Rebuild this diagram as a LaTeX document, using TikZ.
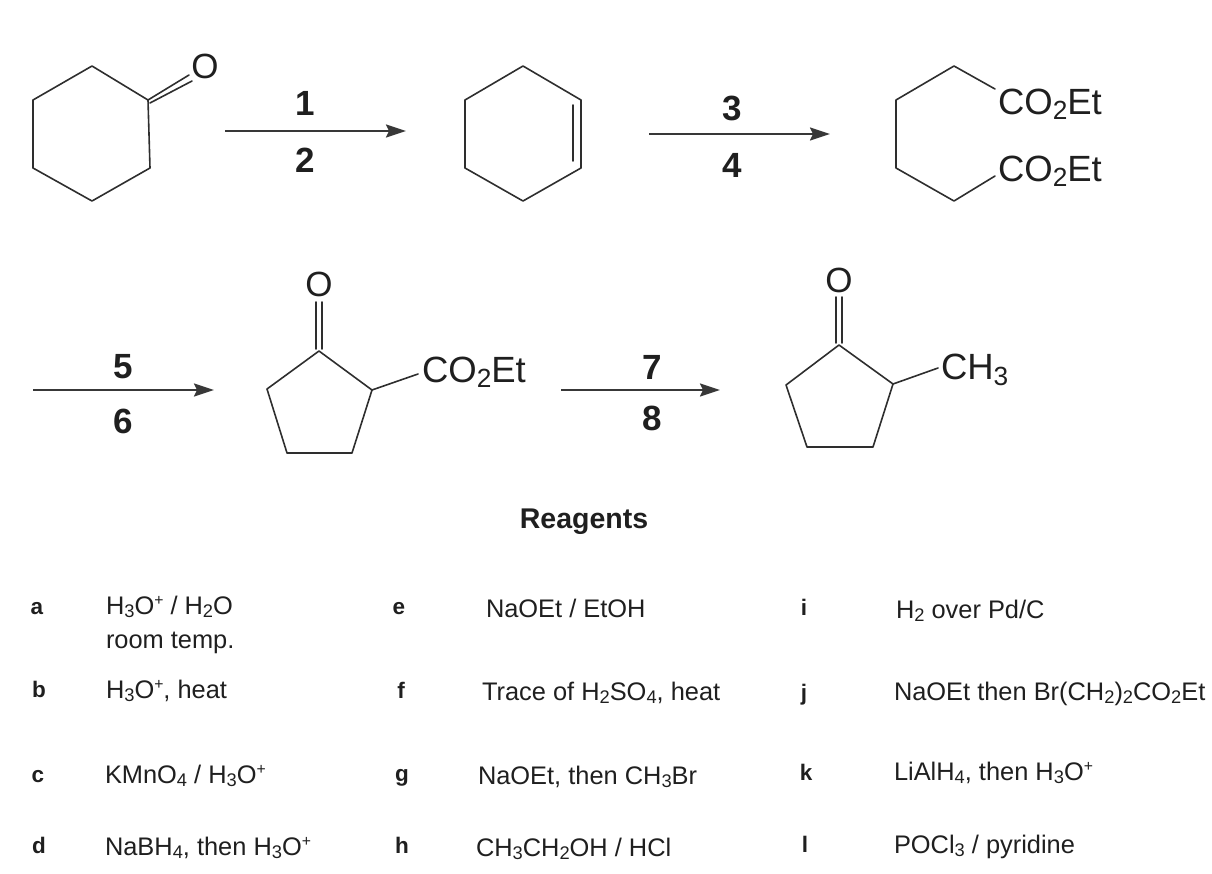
\documentclass[tikz,border=0pt]{standalone}
\usepackage{fontspec}
\setmainfont{Liberation Sans}
\usetikzlibrary{arrows.meta}
\newcommand{\sbs}[1]{\raisebox{-0.28ex}{\scalebox{.72}{#1}}}
\newcommand{\sps}[1]{\raisebox{0.62ex}{\scalebox{.62}{#1}}}
\tikzset{
  x=1pt,y=-1pt,
  every node/.style={inner sep=0pt,outer sep=0pt,text=black!88},
  bond/.style={draw=black!82,line width=1.6pt,line join=round,line cap=round},
  rxn/.style={draw=black!78,line width=2pt,-{Stealth[length=20pt,width=13pt,inset=3pt]}},
  atom/.style={font=\fontsize{35}{35}\selectfont},
  group/.style={anchor=west,font=\fontsize{36.5}{36.5}\selectfont},
  num/.style={font=\fontsize{35}{35}\bfseries\selectfont},
  letter/.style={anchor=base,font=\fontsize{22.5}{22.5}\bfseries\selectfont},
  reagent/.style={anchor=base west,font=\fontsize{25.4}{25.4}\selectfont},
  title/.style={font=\fontsize{28.5}{28.5}\bfseries\selectfont},
}
\begin{document}
\begin{tikzpicture}
\useasboundingbox (0,0) rectangle (1212,873);
% cyclohexanone
\coordinate (a1) at (92,66);\coordinate (a2) at (33,100);\coordinate (a3) at (33,168);
\coordinate (a4) at (92,201);\coordinate (a5) at (150,168);\coordinate (a6) at (148,100);
\draw[bond] (a6)--(a1)--(a2)--(a3)--(a4)--(a5)--cycle;
\node[atom] (o1) at (205,66) {O};
\coordinate (o1a) at (189,75);\coordinate (o1b) at (192,81);\coordinate (a6b) at (150,103);
\draw[bond] (a6)--(o1a) (a6b)--(o1b);
% arrow 1
\coordinate (r1s) at (225,131);\coordinate (r1e) at (406,131);
\draw[rxn] (r1s)--(r1e);
\node[num] (n1) at (305,103) {1};\node[num] (n2) at (305,160) {2};
% cyclohexene
\coordinate (b1) at (523,66);\coordinate (b2) at (465,100);\coordinate (b3) at (465,168);
\coordinate (b4) at (523,201);\coordinate (b5) at (581,168);\coordinate (b6) at (581,100);
\draw[bond] (b6)--(b1)--(b2)--(b3)--(b4)--(b5)--cycle;
\coordinate (b7) at (573,105);\coordinate (b8) at (573,161);
\draw[bond] (b7)--(b8);
% arrow 2
\coordinate (r2s) at (649,134);\coordinate (r2e) at (830,134);
\draw[rxn] (r2s)--(r2e);
\node[num] (n3) at (732,108) {3};\node[num] (n4) at (732,165) {4};
% diester
\node[group] (e1) at (998,104) {CO\sbs{2}Et};
\node[group] (e2) at (998,171) {CO\sbs{2}Et};
\coordinate (c1) at (954,66);\coordinate (c2) at (896,100);\coordinate (c3) at (896,168);\coordinate (c4) at (954,201);
\coordinate (c0) at (995,89);\coordinate (c5) at (995,176);
\draw[bond] (c0)--(c1)--(c2)--(c3)--(c4)--(c5);
% arrow 3
\coordinate (r3s) at (33,390);\coordinate (r3e) at (214,390);
\draw[rxn] (r3s)--(r3e);
\node[num] (n5) at (123,367) {5};\node[num] (n6) at (123,421) {6};
% keto ester
\coordinate (d1) at (319,351);\coordinate (d2) at (267,389);\coordinate (d3) at (287,453);
\coordinate (d4) at (352,453);\coordinate (d5) at (372,390);
\draw[bond] (d1)--(d2)--(d3)--(d4)--(d5)--cycle;
\node[atom] (o2) at (319,284) {O};
\coordinate (d1a) at (316,349);\coordinate (d1b) at (322,349);\coordinate (o2a) at (316,302);\coordinate (o2b) at (322,302);
\draw[bond] (d1a)--(o2a) (d1b)--(o2b);
\node[group] (e3) at (422,372) {CO\sbs{2}Et};
\coordinate (d6) at (418,374);
\draw[bond] (d5)--(d6);
% arrow 4
\coordinate (r4s) at (561,390);\coordinate (r4e) at (720,390);
\draw[rxn] (r4s)--(r4e);
\node[num] (n7) at (652,367) {7};\node[num] (n8) at (652,418) {8};
% methyl ketone
\coordinate (f1) at (839,345);\coordinate (f2) at (786,385);\coordinate (f3) at (807,447);
\coordinate (f4) at (873,447);\coordinate (f5) at (893,384);
\draw[bond] (f1)--(f2)--(f3)--(f4)--(f5)--cycle;
\node[atom] (o3) at (839,280) {O};
\coordinate (f1a) at (836,343);\coordinate (f1b) at (842,343);\coordinate (o3a) at (836,297);\coordinate (o3b) at (842,297);
\draw[bond] (f1a)--(o3a) (f1b)--(o3b);
\node[group] (m1) at (941,370) {CH\sbs{3}};
\coordinate (f6) at (938,368);
\draw[bond] (f5)--(f6);
% reagents
\node[title] (rt) at (584,522) {Reagents};
\node[letter] (la) at (37,614) {a};
\node[reagent] (ra) at (106,614) {H\sbs{3}O\sps{+} / H\sbs{2}O};
\node[reagent] (ra2) at (106,648) {room temp.};
\node[letter] (lb) at (39,697) {b};
\node[reagent] (rb) at (106,698) {H\sbs{3}O\sps{+}, heat};
\node[letter] (lc) at (38,782) {c};
\node[reagent] (rc) at (105,783) {KMnO\sbs{4} / H\sbs{3}O\sps{+}};
\node[letter] (ld) at (39,853) {d};
\node[reagent] (rd) at (105,855) {NaBH\sbs{4}, then H\sbs{3}O\sps{+}};
\node[letter] (le) at (399,614) {e};
\node[reagent] (re) at (486,617) {NaOEt / EtOH};
\node[letter] (lf) at (401,698) {f};
\node[reagent] (rf) at (482,700) {Trace of H\sbs{2}SO\sbs{4}, heat};
\node[letter] (lg) at (402,781) {g};
\node[reagent] (rg) at (478,784) {NaOEt, then CH\sbs{3}Br};
\node[letter] (lh) at (402,853) {h};
\node[reagent] (rh) at (476,856) {CH\sbs{3}CH\sbs{2}OH / HCl};
\node[letter] (li) at (804,615) {i};
\node[reagent] (ri) at (896,618) {H\sbs{2} over Pd/C};
\node[letter] (lj) at (804,700) {j};
\node[reagent] (rj) at (894,700) {NaOEt then Br(CH\sbs{2})\sbs{2}CO\sbs{2}Et};
\node[letter] (lk) at (806,780) {k};
\node[reagent] (rk) at (894,780) {LiAlH\sbs{4}, then H\sbs{3}O\sps{+}};
\node[letter] (ll) at (805,852) {l};
\node[reagent] (rl) at (894,853) {POCl\sbs{3} / pyridine};
\end{tikzpicture}
\end{document}
